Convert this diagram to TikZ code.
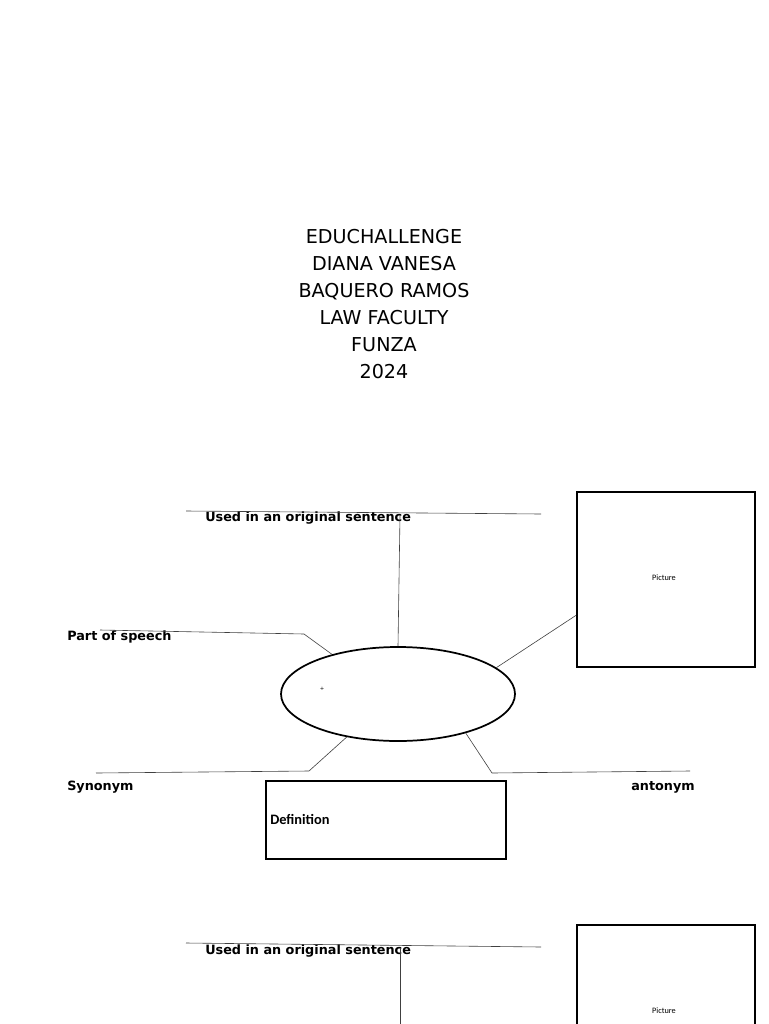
\documentclass[tikz,border=0pt]{standalone}
\usepackage{fontspec}
\setmainfont{DejaVu Sans}
\newfontfamily\carl{Carlito}
\usetikzlibrary{shapes.geometric}
\begin{document}
\begin{tikzpicture}[x=0.75pt,y=-0.75pt,
  thinline/.style={draw=black!75,line width=0.45pt},
  boxline/.style={draw=black,line width=1.3pt},
  lbl/.style={font=\bfseries\fontsize{9.6pt}{11pt}\selectfont,inner sep=0pt},
  pic/.style={font=\carl\fontsize{6.2pt}{7pt}\selectfont,inner sep=0pt},
  picbox/.style={boxline,minimum width=133.5pt,minimum height=131.25pt,inner sep=0pt,anchor=north west},
  title/.style={font=\fontsize{14.35pt}{20.2pt}\selectfont,align=center,inner sep=0pt}]
\useasboundingbox (0,0) rectangle (768,1024);
\clip (0,0) rectangle (768,1024);
\fill[white] (0,0) rectangle (768,1024);

\node[title] (ttl) at (384,304) {EDUCHALLENGE\\DIANA VANESA\\BAQUERO RAMOS\\LAW FACULTY\\FUNZA\\2024};

% ---- first organiser ----
\node[lbl,anchor=west] (used) at (205,518) {Used in an original sentence};
\coordinate (u1) at (186,511);
\coordinate (u2) at (541,514);
\coordinate (uv) at (400,515);
\draw[thinline] (u1) -- (u2);

\node[ellipse,boxline,minimum width=175.5pt,minimum height=70.5pt,inner sep=0pt] (word) at (398,694) {};
\node[font=\fontsize{4pt}{4pt}\selectfont,inner sep=0pt] (plus) at (322,689) {+};
\draw[thinline] (uv) -- (word.north);

\node[lbl,anchor=west] (pos) at (67,637) {Part of speech};
\coordinate (p1) at (100,630);
\coordinate (p2) at (304,634);
\draw[thinline] (p1) -- (p2) -- (word.149);

\node[picbox] (picbox1) at (576,491) {};
\node[pic] (pict) at (664,578) {Picture};
\draw[thinline] (word.15) -- ([yshift=-27pt]picbox1.west);

\node[lbl,anchor=west] (syn) at (67,787) {Synonym};
\coordinate (s1) at (96,773);
\coordinate (s2) at (309,771);
\draw[thinline] (s1) -- (s2) -- (word.220);

\node[lbl,anchor=east] (ant) at (695,787) {antonym};
\coordinate (a1) at (690,771);
\coordinate (a2) at (492,773);
\draw[thinline] (word.330) -- (a2) -- (a1);

\node[boxline,minimum width=180pt,minimum height=58.5pt,inner sep=0pt,anchor=north west] (defbox) at (265,780) {};
\node[font=\carl\bfseries\fontsize{10.8pt}{12pt}\selectfont,inner sep=0pt,anchor=west] (def) at (270,819) {Definition};

% ---- second organiser (partly visible) ----
\node[lbl,anchor=west] (used2) at (205,951) {Used in an original sentence};
\coordinate (v1) at (186,943);
\coordinate (v2) at (541,947);
\coordinate (vv) at (400,948);
\coordinate (vb) at (400,1040);
\draw[thinline] (v1) -- (v2);
\draw[thinline] (vv) -- (vb);
\node[picbox] (picbox2) at (576,924) {};
\node[pic] (pict2) at (664,1011) {Picture};
\end{tikzpicture}
\end{document}
